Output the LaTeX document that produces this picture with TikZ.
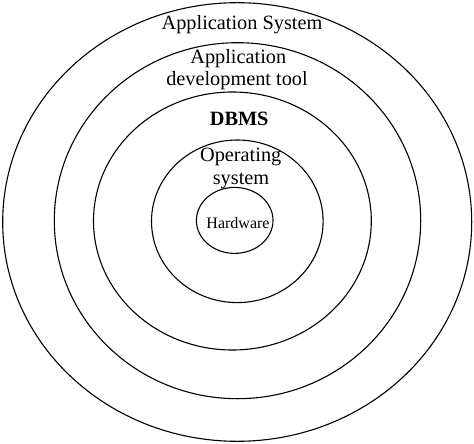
\documentclass[tikz,border=0pt]{standalone}
\usepackage{fontspec}
\setmainfont{Liberation Serif}
\usetikzlibrary{shapes.geometric}
\tikzset{
  ring/.style={draw=black, line width=1.1bp, ellipse, inner sep=0pt},
  lbl/.style={font=\fontsize{20.3bp}{23bp}\selectfont, inner sep=0pt, anchor=base},
  smalllbl/.style={font=\fontsize{16bp}{18bp}\selectfont, inner sep=0pt, anchor=base}
}
\begin{document}
\begin{tikzpicture}[x=1bp,y=-1bp]
\useasboundingbox (0,0) rectangle (474,444);
\fill[white] (0,0) rectangle (474,444);
\node[ring, minimum width=469bp, minimum height=438.6bp] (r1) at (237.2,222) {};
\node[ring, minimum width=366.4bp, minimum height=356bp] (r2) at (237.5,220.7) {};
\node[ring, minimum width=277.8bp, minimum height=258bp] (r3) at (232.4,221) {};
\node[ring, minimum width=171.6bp, minimum height=162.6bp] (r4) at (237.3,221.3) {};
\node[ring, minimum width=76.6bp, minimum height=66bp] (r5) at (234.7,220.4) {};
\node[lbl] (t1) at (242,29.3) {Application System};
\node[lbl] (t2a) at (238.3,63.3) {Application};
\node[lbl] (t2b) at (237,86) {development tool};
\node[lbl, font=\fontsize{20.3bp}{23bp}\selectfont\bfseries] (t3) at (239.2,125.3) {DBMS};
\node[lbl] (t4a) at (240.7,161.7) {Operating};
\node[lbl] (t4b) at (241,185) {system};
\node[smalllbl] (t5) at (238,228.3) {Hardware};
\end{tikzpicture}
\end{document}
